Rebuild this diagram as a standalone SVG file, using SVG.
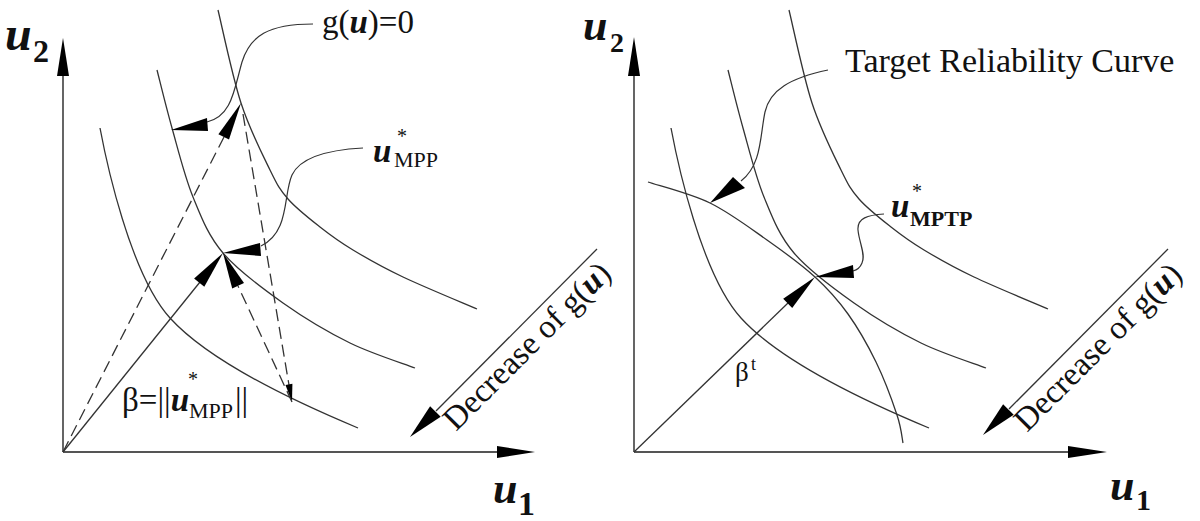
<svg xmlns="http://www.w3.org/2000/svg" width="1200" height="521" viewBox="0 0 1200 521">
<style>
.bg{fill:#fff}
.axis{stroke:#555;stroke-width:1.8;fill:none}
.crv{stroke:#333;stroke-width:1.3;fill:none}
.lead{stroke:#333;stroke-width:1.2;fill:none}
.dash{stroke:#333;stroke-width:1.3;fill:none;stroke-dasharray:12 6}
.head{fill:#000;stroke:none}
text{font-family:"Liberation Serif","Times New Roman",serif;fill:#111}
.t{font-size:33px}
.bi{font-weight:bold;font-style:italic}
.b{font-weight:bold}
.sub{font-size:22px}
.sup{font-size:20px}
</style>
<defs>
<path id="cA" d="M100,128 C106,160 130,274 170,318 C210,362 298,403 358,428"/>
<path id="cB" d="M157,70 C159.5,79.7 166,106.8 172,128 C178,149.2 184.5,176.2 193,197 C201.5,217.8 208,235.3 223,253 C238,270.7 261.8,288 283,303 C304.2,318 328,332.2 350,343 C372,353.8 404.2,363.8 415,368"/>
<path id="cC" d="M218,10 C221.8,25.5 232.3,76.3 241,103 C249.7,129.7 262.2,154 270,170 C277.8,186 279.7,189.5 288,199 C296.3,208.5 309.2,218.5 320,227 C330.8,235.5 339.2,241.7 353,250 C366.8,258.3 382.3,267.2 403,277 C423.7,286.8 464.7,303.7 477,309"/>
</defs>
<rect class="bg" x="0" y="0" width="1200" height="521"/>

<g id="left-panel">
  <g id="left-axes">
    <line class="axis" x1="63" y1="452" x2="63" y2="74"/>
    <polygon class="head" points="63,38 57,76 69,76"/>
    <line class="axis" x1="63" y1="452" x2="499" y2="452"/>
    <polygon class="head" points="535,452 497,446 497,458"/>
  </g>
  <g id="left-curves">
    <use href="#cA" class="crv"/>
    <use href="#cB" class="crv"/>
    <use href="#cC" class="crv"/>
  </g>
  <g id="left-labels">
    <text x="5" y="50"><tspan class="bi" font-size="48">u</tspan><tspan class="b" font-size="32" x="33" y="62">2</tspan></text>
    <text x="493" y="503"><tspan class="bi" font-size="44">u</tspan><tspan class="b" font-size="34" x="518" y="515">1</tspan></text>
    <text class="t" x="322" y="33">g(<tspan class="bi">u</tspan>)=0</text>
    <text class="t" x="373" y="162"><tspan class="bi">u</tspan><tspan class="sup" x="397" y="143">*</tspan><tspan class="sub" x="394" y="167">MPP</tspan></text>
    <text class="t" x="122" y="411">β=||<tspan class="bi">u</tspan><tspan class="sup" x="188" y="386">*</tspan><tspan class="sub" x="189" y="418">MPP</tspan><tspan x="235" y="411">||</tspan></text>
    <text class="t" transform="translate(456,432) rotate(-45)">Decrease of g(<tspan class="bi">u</tspan>)</text>
  </g>
</g>

<g id="right-panel">
  <g id="right-axes">
    <line class="axis" x1="634" y1="452" x2="634" y2="74"/>
    <polygon class="head" points="634,37 628,76 640,76"/>
    <line class="axis" x1="634" y1="452" x2="1070" y2="452"/>
    <polygon class="head" points="1107,452 1068,446 1068,458"/>
  </g>
  <g id="right-curves">
    <g transform="translate(571,0)">
      <use href="#cA" class="crv"/>
      <use href="#cB" class="crv"/>
      <use href="#cC" class="crv"/>
    </g>
    <path id="target-curve" class="crv" d="M648,182 C658.3,185.5 690.2,193.3 710,203 C729.8,212.7 749.5,227.7 767,240 C784.5,252.3 801.5,264.7 815,277 C828.5,289.3 837.8,299.8 848,314 C858.2,328.2 867.8,345.2 876,362 C884.2,378.8 892.5,401.5 897,415 C901.5,428.5 902,438.3 903,443"/>
  </g>
  <g id="right-labels">
    <text x="583" y="40"><tspan class="bi" font-size="44">u</tspan><tspan class="b" font-size="28" x="610" y="52">2</tspan></text>
    <text x="1110" y="500"><tspan class="bi" font-size="44">u</tspan><tspan class="b" font-size="30" x="1136" y="510">1</tspan></text>
    <text x="845" y="72" font-size="34">Target Reliability Curve</text>
    <text class="t" x="891" y="217"><tspan class="bi">u</tspan><tspan class="sup" x="912" y="198">*</tspan><tspan class="sub b" font-size="23" x="910" y="226">MPTP</tspan></text>
    <text x="735" y="381" font-size="27">β<tspan font-size="18" x="751" y="370">t</tspan></text>
    <text class="t" transform="translate(1027,433) rotate(-45)">Decrease of g(<tspan class="bi">u</tspan>)</text>
  </g>
</g>

<g id="connectors">
  <path class="lead" d="M313,24 C268,24 250,36 242,62 C234,90 232,116 207,122"/>
  <polygon class="head" points="171,130 207,118 208,131"/>
  <path class="lead" d="M363,148 C325,150 300,158 292,175 C283,195 290,232 261,246"/>
  <polygon class="head" points="223,253 260,243 261,256"/>
  <line class="crv" x1="63" y1="452" x2="200" y2="282"/>
  <polygon class="head" points="223,253 204.3,286.7 194.1,278.5"/>
  <line class="dash" x1="63" y1="452" x2="224" y2="137"/>
  <polygon class="head" points="241,103 229,139.6 218.4,134.2"/>
  <line class="dash" x1="243" y1="114" x2="289" y2="385"/>
  <polygon class="head" points="292,402 292.4,383.7 285.5,384.9"/>
  <line class="dash" x1="292" y1="402" x2="238" y2="286"/>
  <polygon class="head" points="223,253 244,283 232.2,288.4"/>
  <line class="crv" x1="597" y1="249" x2="436" y2="411"/>
  <polygon class="head" points="410,437 440.7,416.8 430.1,406.2"/>
  <path class="lead" d="M828,70 C790,78 770,90 765,112 C760,135 762,165 741,181"/>
  <polygon class="head" points="710,203 733,177 745,188"/>
  <path class="lead" d="M884,214 C868,215 857,218 858,230 C859,242 866,255 862,263 C860,268 857,270 853,271"/>
  <polygon class="head" points="815,277 853,265 854,278"/>
  <line class="crv" x1="634" y1="452" x2="788" y2="303"/>
  <polygon class="head" points="815,277 792.2,308.1 783.2,298.7"/>
  <line class="crv" x1="1168" y1="249" x2="1009" y2="409"/>
  <polygon class="head" points="983,435 1013.7,414.8 1003.1,404.2"/>
</g>
</svg>
